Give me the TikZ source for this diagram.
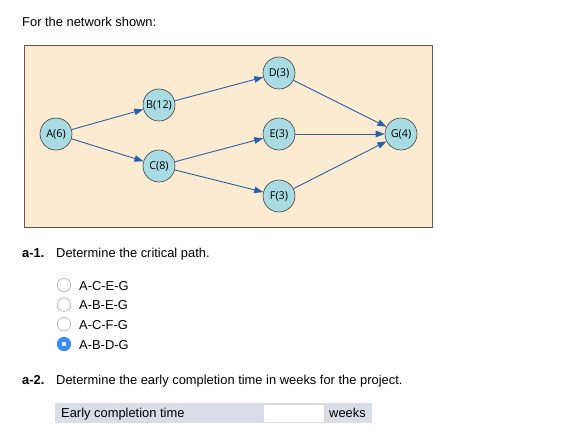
\documentclass[tikz,border=0pt]{standalone}
\usepackage{fontspec}
\setmainfont{Liberation Sans}
\newfontfamily\netfont{Open Sans}
\usetikzlibrary{arrows.meta, positioning}
\definecolor{netbg}{RGB}{253,235,209}
\definecolor{netedge}{RGB}{96,88,78}
\definecolor{taskfill}{RGB}{168,219,226}
\definecolor{flowblue}{RGB}{38,98,170}
\definecolor{radiogray}{RGB}{185,185,185}
\definecolor{radioblue}{RGB}{56,140,240}
\definecolor{answergray}{RGB}{216,221,231}
\tikzset{
    task/.style={
        circle, draw=black!75, fill=taskfill,
        minimum size=32pt, inner sep=0pt,
        font=\netfont\fontsize{10.8}{12}\selectfont, line width=0.6pt,
    },
    flow/.style={-{Triangle[length=9pt,width=6.5pt]}, line width=0.9pt, draw=flowblue},
    prompt/.style={anchor=base west, inner sep=0pt, font=\fontsize{12.9}{15}\selectfont},
    qnum/.style={prompt, font=\bfseries\fontsize{12.9}{15}\selectfont},
    radio/.style={
        circle, draw=radiogray, fill=white,
        minimum size=13.5pt, inner sep=0pt, line width=0.8pt,
    },
}
\begin{document}
\begin{tikzpicture}[x=1pt, y=-1pt, on grid]

    \useasboundingbox (0,0) rectangle (582,432);
    \fill[white] (0,0) rectangle (582,432);

    \node[prompt] (intro) at (22,26) {For the network shown:};

    % network
    \draw[netedge, fill=netbg, line width=1pt] (24,45) rectangle (432,227);

    \node[task] (a) at (56,134) {A(6)};
    \node[task, above right=29pt and 103pt of a] (b) {B(12)};
    \node[task, below right=32pt and 103pt of a] (c) {C(8)};
    \node[task, above right=32pt and 120pt of b] (d) {D(3)};
    \node[task, right=223pt of a] (e) {E(3)};
    \node[task, below right=30pt and 120pt of c] (f) {F(3)};
    \node[task, right=122pt of e] (g) {G(4)};

    \draw[flow] (a) -- (b);
    \draw[flow] (a) -- (c);
    \draw[flow] (b) -- (d);
    \draw[flow] (c) -- (e);
    \draw[flow] (c) -- (f);
    \draw[flow] (d) -- (g);
    \draw[flow] (e) -- (g);
    \draw[flow] (f) -- (g);

    % question a-1
    \node[qnum] (q1) at (22,257) {a-1.};
    \node[prompt] (q1text) at (56,257) {Determine the critical path.};

    \foreach \opt [count=\i] in {A-C-E-G, A-B-E-G, A-C-F-G} {
        \node[radio] (r\i) at (64,{285+19.6*(\i-1)}) {};
        \node[prompt] (o\i) at (79,{290+19.6*(\i-1)}) {\opt};
    }
    \node[radio, draw=radioblue, fill=radioblue] (r4) at (64,344) {};
    \fill[white] (r4.center) circle (2.2pt);
    \node[prompt] (o4) at (79,349) {A-B-D-G};

    % question a-2
    \node[qnum] (q2) at (22,384) {a-2.};
    \node[prompt] (q2text) at (56,384) {Determine the early completion time in weeks for the project.};

    \fill[answergray] (55,403) rectangle (372,423);
    \draw[black!15, fill=white] (263,404) rectangle (324,422);
    \node[prompt] (ans) at (61,417) {Early completion time};
    \node[prompt] (unit) at (329,417) {weeks};

\end{tikzpicture}
\end{document}
